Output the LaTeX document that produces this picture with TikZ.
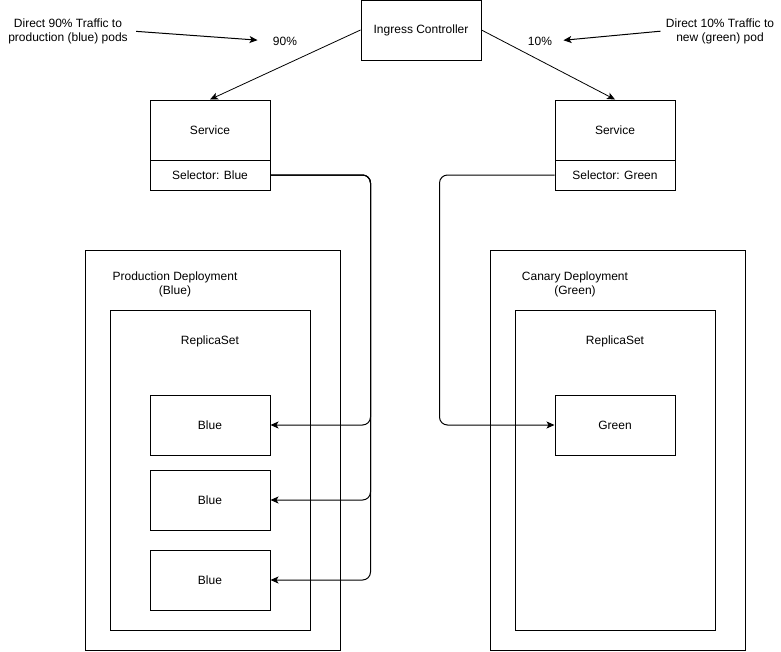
\documentclass[tikz,border=0pt]{standalone}
\usepackage{fontspec}
\setmainfont{Liberation Sans}
\usetikzlibrary{arrows.meta,positioning}

\begin{document}
\begin{tikzpicture}[x=1pt,y=-1pt,line width=1pt,
	font=\fontsize{12}{14}\selectfont,
	box/.style={draw,rectangle,inner sep=0pt},
	pod/.style={box,minimum width=120pt,minimum height=60pt},
	sel/.style={box,minimum width=120pt,minimum height=30pt},
	link/.style={-{Stealth[length=8pt,width=7pt,inset=2pt]},rounded corners=8pt},
	note/.style={align=center,inner sep=3pt}]
	
	\useasboundingbox (0,0) rectangle (781,651);
	
	% deployments
	\node[box,minimum width=255pt,minimum height=400pt] (proddep) at (212.5,450) {};
	\node[box,minimum width=200pt,minimum height=320pt] (prodrs) at (210,470) {};
	\node[note] (prodlbl) at (175,284) {Production Deployment\\(Blue)};
	\node (prodrslbl) at (210,341) {ReplicaSet};
	
	\node[box,minimum width=255pt,minimum height=400pt] (candep) at (617.5,450) {};
	\node[box,minimum width=200pt,minimum height=320pt] (canrs) at (615,470) {};
	\node[note] (canlbl) at (575,284) {Canary Deployment\\(Green)};
	\node (canrslbl) at (615,341) {ReplicaSet};
	
	% pods
	\node[pod] (blue1) at (210,425) {Blue};
	\node[pod] (blue2) at (210,500) {Blue};
	\node[pod] (blue3) at (210,580) {Blue};
	\node[pod] (green) at (615,425) {Green};
	
	% services
	\node[pod] (ingress) at (421,30) {Ingress Controller};
	\node[pod] (svcblue) at (210,130) {Service};
	\node[sel] (selblue) at (210,175) {Selector: Blue};
	\node[pod] (svcgreen) at (615,130) {Service};
	\node[sel] (selgreen) at (615,175) {Selector: Green};
	
	% notes
	\node[note] (note90) at (68,31) {Direct 90\% Traffic to\\production (blue) pods};
	\node[note] (pct90) at (285,41) {90\%};
	\node[note] (note10) at (720,31) {Direct 10\% Traffic to\\new (green) pod};
	\node[note] (pct10) at (540,41) {10\%};
	
	\draw[link,line width=0.8pt] (ingress.west) -- (svcblue.north);
	\draw[link,line width=0.8pt] (ingress.east) -- (svcgreen.north);
	\draw[link,shorten <=5pt,shorten >=12pt] (note90.east) -- (pct90.west);
	\draw[link,shorten <=2pt,shorten >=8pt] (note10.west) -- (pct10.east);
	
	\foreach \p in {blue1,blue2,blue3}
		\draw[link] (selblue.east) -- ++(100,0) |- (\p.east);
	\draw[link] (selgreen.west) -- ++(-115,0) |- (green.west);
	
\end{tikzpicture}
\end{document}
